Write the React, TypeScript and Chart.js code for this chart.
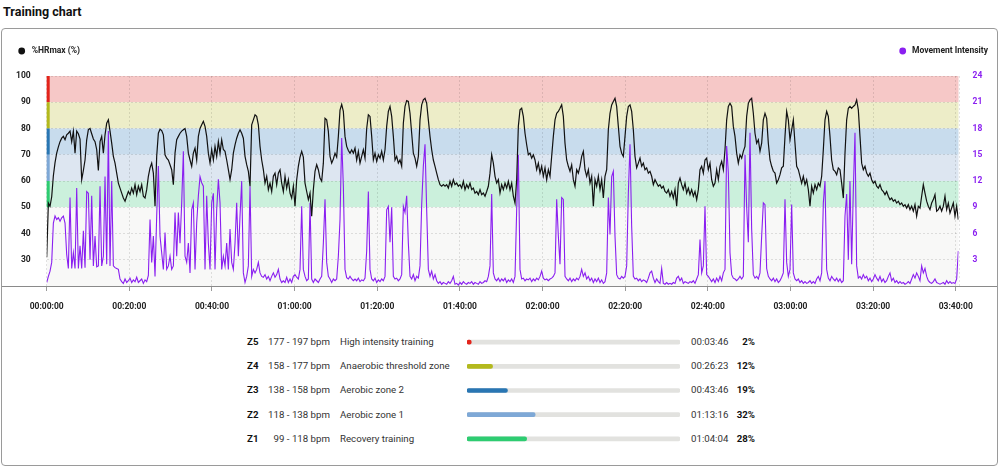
import React, { useEffect, useRef } from 'react';
import { Chart, registerables } from 'chart.js';

Chart.register(...registerables);

const FONT = 'Roboto, Arial, sans-serif';
const PURPLE = '#8a1ff0';
const HR_COLOR = '#111111';

// time axis
const SAMPLE_SECONDS = 24.2;
const X_MAX_SECONDS = 13240;
const xTickSeconds = [0, 1200, 2400, 3600, 4800, 6000, 7200, 8400, 9600, 10800, 12000, 13200];

// %HRmax readings (three consecutive segments of the session)
const hrPart1 = [31,51.6,50.4,54,62,67,70.6,73,75,76.3,77,75.7,77.6,78.2,79,75,79,70.6,79,78,76,60.5,64,68,75.7,79.6,80,78,76,75,72,64,75,77,70.6,77.6,82,83.3,79,74.4,69.4,66.8,63,59.2,57.3,55.4,53.5,52.3,54.2,56,54.8,57.3,55.4,58.6,54.8,58,56,58.6,54.2,53.5,56.7,61.8,65,66.8,63,50.4,69.4,78.2,79.7,79.2,77.6,70,68.7,68,66.2,64.3,58.6,70.6,75.7,77,78.2,79,79.5,80,77,70.6,68,65.6,70.6,72.5,68,77,80,81.4,82.7,80.8,77,70.6,66.8,72,68,73.2,69.4,75,70.6,75.7,72,71.3,68,64.3,60.5,64.3,70.6,73.8,76.3,78.2,79.5,78.2,76.3,69.4,66.2,63.7,58,81.4,83.3,85.2,84.6,81.4,73.2,68,64.3,59.2,61.8,56.7,59.2,56,61.8,63,58.6,63,64.3,59.2,56,61.8,57.3,60.5,55.4,53.5,58,50.4,60.5,65.6,69.1,71.3,69.1,59.2,56,52.9,55.4,46.6,56.7,63.7,66.2,64.3,61.1,59.9,66.8,83.9,83.3,78.9,69.4,66.8,68.4,70.6,69.1,77,87,89.2,86.5,77,73.2,71.6,70.6];
const hrPart2 = [71.9,70.6,72.5,68,71.3,66.8,69.4,71.9,68.7,80,85.2,84.6,77,68,70.6,67.5,70,68.7,71.3,68,71.9,80.8,86.5,88.4,84.6,77,68,69.4,66.8,68,65.6,82,88.4,90.6,90.3,85.8,78.2,70.6,68.7,65.6,69.4,83.3,89,90.9,91.5,89.6,83.3,77,71.9,68,65.6,63,60.5,58.6,58,58.6,58,58.6,57.3,59.9,58,60.5,58.6,59.2,58,58.6,57.3,59.9,56.7,58.6,57.3,59.2,56.7,57.3,55.4,56,54.8,56.7,54.8,55.4,54.2,56,58,63,70,66.8,61.8,59.2,60.5,55.4,58.6,56.7,59.2,57.3,59.9,56.7,59.2,54.2,51.6,60.5,80.8,87.1,87.7,84.6,78.2,73.8,70,70.6,68.7,70,68,64.3,66.8,63,65.6,61.8,65,60.5,64.3,61.8,69.4,77,83.3,85.8,86.5,87.7,89,84.6,74.4,68,65.6,63.7,66.2,60.5,58,64.3,63,65.6,69.4,71.3,64.3,61.8,64.3,59.2,61.8,50.4,60.5,58,61.8,56.7,60.5,53.5,61.8,64.3,79.5,85.8,89,90.3,91.5,88.4,80.8,73.2,70.6,69.4,77,84.6,88.4,89,86.5,79.5,69.4,65,66.8,68.7,65.6,66.8,64.3,65,63,63.7,61.8,58.6,60.5];
const hrPart3 = [59.2,58,58.6,57.3,58,56,55.4,56.7,54.2,56,53.5,56.7,50.4,59.2,61.1,58.6,56.7,59.2,55.4,57.3,54.8,56.7,54.2,56,52.9,56.7,64.3,65.6,63,68,68.7,64.3,66.8,60.5,58,59.2,64.3,60.5,65.6,67.5,64.3,71.9,83.3,88.4,89.6,88.4,80.8,77,70.6,66.8,70,68.7,71.3,73.2,84.6,89.6,90.9,91.5,85.8,78.2,74.4,75.7,71.3,74.4,83.3,85.8,83.9,74.4,68,65.6,63.7,63,59.2,60.5,62.4,65,65.6,77,86.5,83.3,75.7,79.5,83.3,74.4,65.6,64.3,61.8,59.2,61.8,58.6,60.5,56.7,50.4,58,55.4,58.6,56.7,59.2,58,61.8,71.9,83.3,86.5,84.6,77,68,64.3,63.7,62.4,65,64.3,59.2,53.5,70.6,83.3,87.7,88.4,87.7,88.4,89,90.9,87.1,77,66.8,64.3,65.6,63,61.8,63,60.5,59.2,59.9,58,57.3,58.6,56.7,56,54.8,56,54.2,52.9,53.5,52.3,52.9,51.6,52.3,51,51.6,50.4,51,49.7,51,49.1,50.4,48.5,51,46.6,50.4,49.7,54.2,58.6,55.4,52.3,50.4,49.1,51.6,52.9,54.8,48.5,49.1,50.4,48.5,50.4,54.2,49.1,51.6,47.8,49.7,51.6,46.6,50.4,45.3];

// Movement intensity readings (same sampling)
const mvPart1 = [0.4,1.1,1.7,2.7,7.2,8.0,7.6,7.8,7.4,7.8,8.0,7.2,3.6,2.0,10.1,2.0,3.8,2.0,11.2,2.0,4.6,2.0,6.3,2.1,10.8,10.6,3.0,10.3,2.3,5.7,2.2,2.3,11.4,2.3,3.4,12.5,2.5,17.7,2.3,12.0,2.3,2.1,2.0,1.9,0.8,0.5,0.3,0.8,0.4,0.6,0.9,0.4,0.7,0.5,1.0,0.4,0.6,0.8,0.3,0.7,0.5,1.2,7.6,2.7,5.7,1.1,8.0,13.7,5.7,3.8,1.9,6.1,1.9,2.3,3.4,1.9,2.3,8.4,3.4,8.4,4.9,9.5,15.4,3.4,2.7,4.9,1.5,8.7,9.5,1.9,7.2,10.3,12.5,11.8,11.4,1.9,10.3,4.9,1.9,9.5,10.6,1.9,8.7,12.2,9.5,1.9,3.4,2.3,4.9,1.9,6.5,2.7,1.9,4.9,9.5,3.4,8.0,12.0,1.5,0.4,1.1,2.3,11.4,1.1,1.9,1.5,1.9,2.7,1.5,1.1,1.0,1.3,0.8,1.1,0.6,1.1,1.5,1.0,1.3,1.9,0.8,0.4,0.6,0.4,1.0,0.4,0.8,0.4,1.1,1.3,1.0,0.8,1.9,9.1,1.9,1.1,0.6,0.8,9.5,0.8,0.4,0.8,0.6,0.4,0.8,1.1,4.9,9.9,2.7,1.1,0.8,0.4,0.8,0.6,0.8,3.4,7.6,16.9,11.4,1.9,0.95,0.8,1.1];
const mvPart2 = [0.8,0.6,0.8,0.6,0.9,0.5,0.7,0.6,0.9,4.0,10.8,1.9,0.8,0.6,0.9,0.4,0.7,0.5,0.8,0.6,1.1,8.7,9.1,5.0,9.0,1.1,0.8,0.9,0.6,0.8,1.3,9.1,8.4,10.3,4.9,1.1,0.8,1.3,0.6,1.1,0.9,2.3,9.3,13.7,16.2,8.7,1.9,1.1,1.7,0.8,1.3,0.6,0.3,0.5,0.2,0.4,0.3,0.2,0.5,0.3,0.6,1.1,0.2,0.3,0.1,0.4,0.2,0.5,0.3,0.2,0.4,0.3,0.5,0.2,0.4,0.3,0.2,0.5,0.3,0.4,0.6,0.5,1.1,2.3,10.5,1.5,0.8,0.6,0.9,0.5,0.8,0.6,0.9,0.4,0.7,0.5,0.8,0.4,1.1,8.7,15.0,1.9,0.8,0.9,0.6,0.8,0.7,0.9,0.5,0.8,0.6,0.9,0.7,1.1,1.7,0.9,0.7,0.8,0.6,0.8,0.9,1.1,1.5,9.9,5.7,2.5,10.1,9.9,1.1,0.8,0.6,0.9,0.5,0.8,0.6,0.9,0.7,1.1,1.9,1.1,1.5,0.8,1.1,0.6,0.9,0.4,0.8,0.5,0.9,0.4,0.7,0.3,0.5,1.5,10.1,5.9,12.5,13.1,5.7,1.3,0.9,0.8,1.1,0.9,1.1,2.3,10.6,16.2,6.8,1.1,0.8,0.9,0.6,0.8,0.5,0.7,0.6,0.4,0.9,1.5,1.7,0.9,0.4];
const mvPart3 = [0.8,0.5,0.3,2.0,0.3,0.2,0.4,0.2,0.3,0.2,0.4,0.3,0.9,1.1,0.6,0.9,0.3,0.5,0.4,0.3,0.5,0.4,0.6,0.3,0.8,1.3,5.3,1.5,2.3,9.1,1.3,1.1,0.8,0.5,0.8,0.4,0.9,0.5,1.1,0.6,1.5,1.9,16.0,13.0,3.8,1.3,0.9,0.8,0.6,0.8,1.1,0.8,1.1,15.0,9.0,5.0,17.5,6.5,1.3,0.9,1.1,0.8,1.5,5.7,9.5,9.3,2.0,1.1,0.8,0.6,0.9,0.5,0.8,0.4,0.6,1.0,1.5,9.9,2.7,1.1,1.9,9.3,1.5,0.8,0.6,0.8,0.4,0.6,0.3,0.5,0.3,0.4,0.6,0.3,0.5,0.3,0.8,1.1,0.6,1.5,9.5,12.0,1.9,0.9,0.6,1.1,0.8,0.6,0.9,0.5,0.8,0.4,0.6,8.0,10.5,3.0,12.0,2.5,11.0,17.5,2.3,0.9,1.1,0.8,1.3,0.9,1.1,0.6,0.9,0.5,0.8,1.3,0.9,0.6,1.1,0.5,0.8,0.4,0.6,1.1,1.5,0.6,0.9,0.4,0.6,0.3,0.5,0.3,0.4,0.2,0.3,0.5,0.3,0.8,1.3,0.9,1.5,1.1,0.6,2.3,1.5,2.0,1.1,0.6,0.4,0.3,0.5,0.8,0.4,0.3,0.2,0.3,0.4,0.2,0.6,0.3,0.5,0.3,0.4,0.3,0.8,4.0];

// Heart-rate zone bands (in %HRmax)
const bandLower = [90, 80, 70, 60, 50, 20];
const bandUpper = [100, 90, 80, 70, 60, 50];
const bandFill = ['#f6c8c7', '#ededc8', '#c8dced', '#dde6f1', '#cbf0dc', '#f8f8f7'];
const bandStrip = ['#e3241b', '#b3b91d', '#2976b3', '#7ea8d6', '#2ecc71', ''];

// Zone summary table
const zoneIds = ['Z5', 'Z4', 'Z3', 'Z2', 'Z1'];
const zoneRanges = ['177 - 197 bpm', '158 - 177 bpm', '138 - 158 bpm', '118 - 138 bpm', '99 - 118 bpm'];
const zoneNames = ['High intensity training', 'Anaerobic threshold zone', 'Aerobic zone 2', 'Aerobic zone 1', 'Recovery training'];
const zoneTimes = ['00:03:46', '00:26:23', '00:43:46', '01:13:16', '01:04:04'];
const zonePercents = [2, 12, 19, 32, 28];
const zoneTrack = [100, 100, 100, 100, 100];
const zoneColors = ['#e3241b', '#b3b91d', '#2976b3', '#7ea8d6', '#2ecc71'];

const hrValues = [...hrPart1, ...hrPart2, ...hrPart3];
const mvValues = [...mvPart1, ...mvPart2, ...mvPart3];

const GRID = 'rgba(0,0,0,0.11)';
const DASH = [2, 2];

function fmtTime(sec: number): string {
  const h = Math.floor(sec / 3600);
  const m = Math.floor((sec % 3600) / 60);
  const s = Math.round(sec % 60);
  const p = (n: number) => String(n).padStart(2, '0');
  return `${p(h)}:${p(m)}:${p(s)}`;
}

const bandsPlugin = {
  id: 'bands',
  beforeDraw(chart: any) {
    const { ctx, chartArea } = chart;
    const y = chart.scales.yHR;
    ctx.save();
    for (let i = 0; i < bandLower.length; i++) {
      const top = y.getPixelForValue(bandUpper[i]);
      const bot = y.getPixelForValue(bandLower[i]);
      ctx.fillStyle = bandFill[i];
      ctx.fillRect(chartArea.left, top, chartArea.right - chartArea.left, bot - top);
    }
    ctx.restore();
  },
  beforeDatasetsDraw(chart: any) {
    const { ctx, chartArea } = chart;
    const y = chart.scales.yHR;
    ctx.save();
    for (let i = 0; i < bandLower.length; i++) {
      if (!bandStrip[i]) continue;
      const top = y.getPixelForValue(bandUpper[i]);
      const bot = y.getPixelForValue(bandLower[i]);
      ctx.fillStyle = bandStrip[i];
      ctx.fillRect(chartArea.left, top, 3, bot - top);
    }
    ctx.strokeStyle = GRID;
    ctx.setLineDash(DASH);
    ctx.lineWidth = 1;
    ctx.beginPath();
    ctx.moveTo(Math.round(chartArea.right) + 0.5, chartArea.top);
    ctx.lineTo(Math.round(chartArea.right) + 0.5, chartArea.bottom);
    ctx.stroke();
    ctx.restore();
  },
  afterDraw(chart: any) {
    const { ctx, chartArea, width } = chart;
    ctx.save();
    // axis line spanning the card
    ctx.strokeStyle = '#8a8a8a';
    ctx.lineWidth = 1;
    ctx.beginPath();
    const yb = Math.round(chartArea.bottom) + 0.5;
    ctx.moveTo(0, yb);
    ctx.lineTo(width, yb);
    ctx.stroke();
    // legend
    const ly = 22;
    ctx.font = `bold 8.5px ${FONT}`;
    ctx.textBaseline = 'middle';
    ctx.textAlign = 'left';
    ctx.fillStyle = HR_COLOR;
    ctx.beginPath();
    ctx.arc(19.7, ly, 3.4, 0, Math.PI * 2);
    ctx.fill();
    ctx.fillStyle = '#222';
    ctx.fillText(chart.data.datasets[0].label, 29.7, ly);
    ctx.fillStyle = PURPLE;
    ctx.beginPath();
    ctx.arc(900.7, ly, 3.4, 0, Math.PI * 2);
    ctx.fill();
    ctx.fillStyle = '#222';
    ctx.fillText(chart.data.datasets[1].label, 910, ly);
    ctx.restore();
  },
};

export default function App() {
  const chartRef = useRef<HTMLCanvasElement>(null);
  const barsRef = useRef<HTMLCanvasElement>(null);

  useEffect(() => {
    document.body.style.margin = '0';
    const tickFont = { family: FONT, size: 8.5, weight: 'bold' as const };
    const main = new Chart(chartRef.current as HTMLCanvasElement, {
      type: 'line',
      data: {
        datasets: [
          {
            label: '%HRmax (%)',
            data: hrValues.map((v, k) => ({ x: k * SAMPLE_SECONDS, y: v })),
            yAxisID: 'yHR',
            borderColor: HR_COLOR,
            borderWidth: 1.2,
            pointRadius: 0,
            tension: 0,
          },
          {
            label: 'Movement Intensity',
            data: mvValues.map((v, k) => ({ x: k * SAMPLE_SECONDS, y: v })),
            yAxisID: 'yMI',
            borderColor: PURPLE,
            borderWidth: 1.1,
            pointRadius: 0,
            tension: 0,
          },
        ],
      },
      options: {
        responsive: false,
        animation: false,
        layout: { padding: { top: 47, left: 0, right: 0, bottom: 0 } },
        plugins: { legend: { display: false }, tooltip: { enabled: false } },
        scales: {
          x: {
            type: 'linear',
            min: 0,
            max: X_MAX_SECONDS,
            afterBuildTicks: (s: any) => {
              s.ticks = xTickSeconds.map((v) => ({ value: v }));
            },
            afterFit: (s: any) => {
              s.height = 33;
            },
            ticks: {
              autoSkip: false,
              maxRotation: 0,
              padding: 11,
              color: '#222',
              font: tickFont,
              callback: (v: any) => fmtTime(Number(v)),
            },
            grid: {
              color: GRID,
              drawTicks: true,
              tickLength: 5,
              tickColor: '#9a9a9a',
              tickBorderDash: [],
            },
            border: { display: false, dash: DASH },
          },
          yHR: {
            type: 'linear',
            position: 'left',
            min: 20,
            max: 100,
            afterFit: (s: any) => {
              s.width = 44.7;
            },
            ticks: {
              stepSize: 10,
              padding: 16,
              color: '#222',
              font: tickFont,
              callback: (v: any) => (Number(v) === 20 ? '' : String(v)),
            },
            grid: { color: GRID, drawTicks: false },
            border: { display: false, dash: DASH },
          },
          yMI: {
            type: 'linear',
            position: 'right',
            min: 0,
            max: 24,
            afterFit: (s: any) => {
              s.width = 38.5;
            },
            ticks: {
              stepSize: 3,
              padding: 14,
              color: PURPLE,
              font: tickFont,
              callback: (v: any) => (Number(v) === 0 ? '' : String(v)),
            },
            grid: { display: false, drawTicks: false },
            border: { display: false },
          },
        },
      } as any,
      plugins: [bandsPlugin],
    });

    const bars = new Chart(barsRef.current as HTMLCanvasElement, {
      type: 'bar',
      data: {
        labels: zoneIds,
        datasets: [
          {
            data: zonePercents,
            backgroundColor: zoneColors,
            barThickness: 4,
            borderRadius: 2,
            borderSkipped: false,
            grouped: false,
            order: 0,
          } as any,
          {
            data: zoneTrack,
            backgroundColor: '#e2e2df',
            barThickness: 4,
            borderRadius: 2,
            borderSkipped: false,
            grouped: false,
            order: 1,
          } as any,
        ],
      },
      options: {
        indexAxis: 'y',
        responsive: false,
        animation: false,
        layout: { padding: 0 },
        plugins: { legend: { display: false }, tooltip: { enabled: false } },
        scales: {
          x: { display: false, min: 0, max: 100 },
          y: { display: false },
        },
      } as any,
    });

    return () => {
      main.destroy();
      bars.destroy();
    };
  }, []);

  const rowTop = 330;
  const rowH = 24.2;
  const txt: React.CSSProperties = {
    position: 'absolute',
    fontSize: 9.7,
    color: '#333',
    height: rowH,
    lineHeight: `${rowH}px`,
    whiteSpace: 'nowrap',
  };

  return (
    <div style={{ position: 'relative', width: 1004, height: 470, fontFamily: FONT, background: '#fff' }}>
      <div
        style={{
          position: 'absolute',
          left: 3,
          top: 4,
          fontSize: 12.5,
          fontWeight: 700,
          lineHeight: '15px',
          color: '#111',
        }}
      >
        Training chart
      </div>
      <div
        style={{
          position: 'absolute',
          left: 1,
          top: 28,
          width: 995,
          height: 436,
          border: '1px solid #9a9a9a',
          borderRadius: 4,
        }}
      >
        <canvas ref={chartRef} width={995} height={290} style={{ position: 'absolute', left: 0, top: 0 }} />
      </div>
      {zoneIds.map((z, i) => (
        <React.Fragment key={z}>
          <div style={{ ...txt, top: rowTop + i * rowH, left: 247, fontWeight: 700, color: '#111' }}>{z}</div>
          <div style={{ ...txt, top: rowTop + i * rowH, left: 250, width: 80, textAlign: 'right' }}>{zoneRanges[i]}</div>
          <div style={{ ...txt, top: rowTop + i * rowH, left: 340 }}>{zoneNames[i]}</div>
          <div style={{ ...txt, top: rowTop + i * rowH, left: 691 }}>{zoneTimes[i]}</div>
          <div style={{ ...txt, top: rowTop + i * rowH, left: 725, width: 30, textAlign: 'right', fontWeight: 700, color: '#111' }}>
            {zonePercents[i]}%
          </div>
        </React.Fragment>
      ))}
      <canvas
        ref={barsRef}
        width={213}
        height={121}
        style={{ position: 'absolute', left: 467, top: rowTop }}
      />
    </div>
  );
}
